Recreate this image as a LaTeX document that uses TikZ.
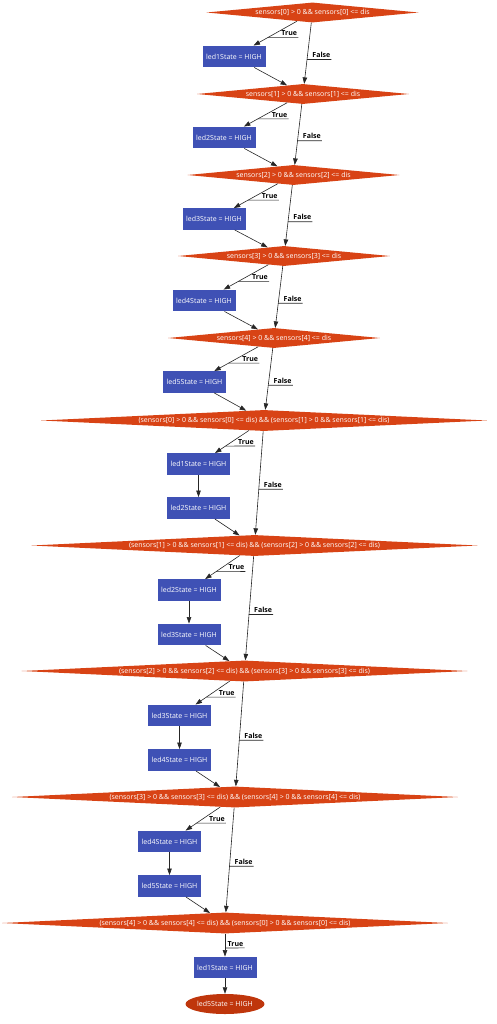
\documentclass[tikz,border=0pt]{standalone}
\usepackage{fontspec}
\setmainfont{Open Sans}
\usetikzlibrary{shapes.geometric,arrows.meta,calc}
\definecolor{dcol}{HTML}{D84315}
\definecolor{bcol}{HTML}{3F51B5}
\definecolor{ecol}{HTML}{BF360C}
\tikzset{
  dec/.style={shape=diamond, fill=dcol, text=white, inner sep=0pt, minimum height=20pt, minimum width=212pt, aspect=10.6, font=\fontsize{7}{8}\selectfont},
  bigdec/.style={dec, minimum width=446pt, minimum height=21pt, aspect=21.2},
  act/.style={rectangle, fill=bcol, text=white, minimum width=63pt, minimum height=21.5pt, inner sep=0pt, font=\fontsize{7}{8}\selectfont},
  fin/.style={ellipse, fill=ecol, text=white, minimum width=79pt, minimum height=20pt, inner sep=0pt, font=\fontsize{7}{8}\selectfont},
  flow/.style={draw=black!85, line width=0.6pt, -{Triangle[length=6.5pt,width=4.5pt]}},
  elabel/.style={font=\fontsize{7}{8}\selectfont\bfseries, anchor=base west, inner xsep=1pt, inner ysep=1.5pt},
  uline/.style={draw=black!85, line width=0.6pt},
}
\newcommand\flowlab[4]{%
  \path (#1) -- coordinate[pos=0.5] (#1#2m) (#2);
  \node[elabel] (#1#2l) at ($(#1#2m)+(#4)$) {#3};
  \draw[uline] (intersection of #1--#2 and #1#2l.south west--#1#2l.south east) -- (#1#2l.south east);
}
\begin{document}
\begin{tikzpicture}[x=1pt, y=-1pt]
\useasboundingbox (0,0) rectangle (496,1024);
\node[dec] (d1) at (312.5,12.5) {sensors[0] > 0 \&\& sensors[0] <= dis};
\node[act] (b1) at (234,56.5) {led1State = HIGH};
\node[dec] (d2) at (303,94) {sensors[1] > 0 \&\& sensors[1] <= dis};
\node[act] (b2) at (224,137.5) {led2State = HIGH};
\node[dec] (d3) at (293.5,175) {sensors[2] > 0 \&\& sensors[2] <= dis};
\node[act] (b3) at (214,219) {led3State = HIGH};
\node[dec] (d4) at (284,256) {sensors[3] > 0 \&\& sensors[3] <= dis};
\node[act] (b4) at (204,300.5) {led4State = HIGH};
\node[dec] (d5) at (274,338) {sensors[4] > 0 \&\& sensors[4] <= dis};
\node[act] (b5) at (194.5,382) {led5State = HIGH};
\node[bigdec] (d6) at (264,420.5) {(sensors[0] > 0 \&\& sensors[0] <= dis) \&\& (sensors[1] > 0 \&\& sensors[1] <= dis)};
\node[act] (b6) at (198.5,464) {led1State = HIGH};
\node[act] (b7) at (198.5,508) {led2State = HIGH};
\node[bigdec] (d7) at (254.5,545.5) {(sensors[1] > 0 \&\& sensors[1] <= dis) \&\& (sensors[2] > 0 \&\& sensors[2] <= dis)};
\node[act] (b8) at (189,590) {led2State = HIGH};
\node[act] (b9) at (189,634.5) {led3State = HIGH};
\node[bigdec] (d8) at (244.5,671) {(sensors[2] > 0 \&\& sensors[2] <= dis) \&\& (sensors[3] > 0 \&\& sensors[3] <= dis)};
\node[act] (b10) at (179.5,715.5) {led3State = HIGH};
\node[act] (b11) at (179.5,760) {led4State = HIGH};
\node[bigdec] (d9) at (235,797) {(sensors[3] > 0 \&\& sensors[3] <= dis) \&\& (sensors[4] > 0 \&\& sensors[4] <= dis)};
\node[act] (b12) at (169.5,841.5) {led4State = HIGH};
\node[act] (b13) at (169.5,886) {led5State = HIGH};
\node[bigdec] (d10) at (225,923) {(sensors[4] > 0 \&\& sensors[4] <= dis) \&\& (sensors[0] > 0 \&\& sensors[0] <= dis)};
\node[act] (b14) at (225,967.5) {led1State = HIGH};
\node[fin] (e) at (225,1004) {led5State = HIGH};

\draw[flow] (d1) -- (b1); \flowlab{d1}{b1}{True}{5,2.5}
\draw[flow] (d1) -- (d2); \flowlab{d1}{d2}{False}{3.5,4.5}
\draw[flow] (b1) -- (d2);
\draw[flow] (d2) -- (b2); \flowlab{d2}{b2}{True}{5,2.5}
\draw[flow] (d2) -- (d3); \flowlab{d2}{d3}{False}{3.5,4.5}
\draw[flow] (b2) -- (d3);
\draw[flow] (d3) -- (b3); \flowlab{d3}{b3}{True}{5,2.5}
\draw[flow] (d3) -- (d4); \flowlab{d3}{d4}{False}{3.5,4.5}
\draw[flow] (b3) -- (d4);
\draw[flow] (d4) -- (b4); \flowlab{d4}{b4}{True}{5,2.5}
\draw[flow] (d4) -- (d5); \flowlab{d4}{d5}{False}{3.5,4.5}
\draw[flow] (b4) -- (d5);
\draw[flow] (d5) -- (b5); \flowlab{d5}{b5}{True}{5,2.5}
\draw[flow] (d5) -- (d6); \flowlab{d5}{d6}{False}{3.5,4.5}
\draw[flow] (b5) -- (d6);
\draw[flow] (d6) -- (b6); \flowlab{d6}{b6}{True}{5,2.5}
\draw[flow] (d6) -- (d7); \flowlab{d6}{d7}{False}{3.5,4.5}
\draw[flow] (b6) -- (b7);
\draw[flow] (b7) -- (d7);
\draw[flow] (d7) -- (b8); \flowlab{d7}{b8}{True}{5,2.5}
\draw[flow] (d7) -- (d8); \flowlab{d7}{d8}{False}{3.5,4.5}
\draw[flow] (b8) -- (b9);
\draw[flow] (b9) -- (d8);
\draw[flow] (d8) -- (b10); \flowlab{d8}{b10}{True}{5,2.5}
\draw[flow] (d8) -- (d9); \flowlab{d8}{d9}{False}{3.5,4.5}
\draw[flow] (b10) -- (b11);
\draw[flow] (b11) -- (d9);
\draw[flow] (d9) -- (b12); \flowlab{d9}{b12}{True}{5,2.5}
\draw[flow] (d9) -- (d10); \flowlab{d9}{d10}{False}{3.5,4.5}
\draw[flow] (b12) -- (b13);
\draw[flow] (b13) -- (d10);
\draw[flow] (d10) -- (b14); \flowlab{d10}{b14}{True}{1.5,1}
\draw[flow] (b14) -- (e);
\end{tikzpicture}
\end{document}
